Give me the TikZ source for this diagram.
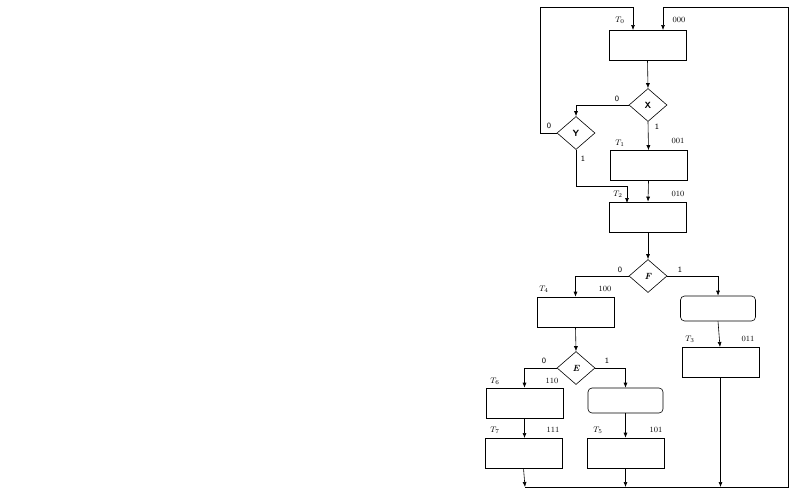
\documentclass[tikz,border=0pt]{standalone}
\usetikzlibrary{shapes.geometric,arrows.meta}
\begin{document}
\begin{tikzpicture}[x=1pt,y=-1pt,
  box/.style={draw,minimum width=77pt,minimum height=30pt,inner sep=0pt},
  rbox/.style={draw,rounded corners=4pt,minimum width=75pt,minimum height=25pt,inner sep=0pt},
  dec/.style={draw,diamond,minimum width=38pt,minimum height=33pt,inner sep=0pt,aspect=1.2,font=\sffamily\bfseries\small},
  arr/.style={-{Latex[length=5pt,width=4pt]}},
  lb/.style={font=\footnotesize,inner sep=1pt},
  sl/.style={font=\sffamily\footnotesize,inner sep=1pt},
  line width=0.6pt]
\useasboundingbox (0,0) rectangle (797,498);
\node[box] (t0) at (647.5,45) {};
\node[dec] (x) at (648,105) {X};
\node[dec] (y) at (576,133) {Y};
\node[box] (t1) at (648.5,165.5) {};
\node[box] (t2) at (648,217) {};
\node[dec] (f) at (648,276) {\rmfamily\bfseries\itshape F};
\node[box] (t4) at (575.5,312) {};
\node[rbox] (r1) at (718,308.5) {};
\node[box] (t3) at (720.5,362) {};
\node[dec] (e) at (576,368) {\rmfamily\bfseries\itshape E};
\node[box] (t6) at (524.5,403) {};
\node[rbox] (r2) at (625.5,400.5) {};
\node[box] (t7) at (523.5,453) {};
\node[box] (t5) at (625.5,453) {};
\coordinate (bl) at (525,487);
\coordinate (br) at (788,487);
% labels
\node[lb] at (620,20) {$T_0$}; \node[lb] at (679,20) {000};
\node[lb] at (620,143) {$T_1$}; \node[lb] at (678,141) {001};
\node[lb] at (618,194) {$T_2$}; \node[lb] at (678,194) {010};
\node[lb] at (544,289) {$T_4$}; \node[lb] at (605,289) {100};
\node[lb] at (690,339) {$T_3$}; \node[lb] at (748,339) {011};
\node[lb] at (495,381) {$T_6$}; \node[lb] at (552,381) {110};
\node[lb] at (495,430) {$T_7$}; \node[lb] at (553,430) {111};
\node[lb] at (598,430) {$T_5$}; \node[lb] at (656,430) {101};
\node[sl] at (617,99) {0}; \node[sl] at (657,127) {1};
\node[sl] at (549,126) {0}; \node[sl] at (583,159) {1};
\node[sl] at (620,270) {0}; \node[sl] at (680,270) {1};
\node[sl] at (544,361) {0}; \node[sl] at (607,361) {1};
% connectors
\draw[arr] (t0.south) -- (x.north);
\draw[arr] (x.south) -- (t1.north);
\draw[arr] (x.west) -| (y.north);
\draw[arr] (y.west) -- (540,133) -- (540,7) -- (633,7) -- (633,30);
\draw[arr] (y.south) |- (627,186) -- (627,203);
\draw[arr] (t1.south) -- (t2.north);
\draw[arr] (t2.south) -- (f.north);
\draw[arr] (f.west) -| (t4.north);
\draw[arr] (f.east) -| (r1.north);
\draw[arr] (r1.south) -- (720,347);
\draw[arr] (t4.south) -- (e.north);
\draw[arr] (e.west) -| (t6.north);
\draw[arr] (e.east) -| (r2.north);
\draw[arr] (t6.south) -- (524.5,438);
\draw[arr] (r2.south) -- (t5.north);
\draw[arr] (t7.south) -- (bl);
\draw[arr] (t5.south) -- (625.5,487);
\draw[arr] (t3.south) -- (720.5,487);
\draw (bl) -- (br) -- (788,7) -- (663,7);
\draw[arr] (663,7) -- (663,30);
\end{tikzpicture}
\end{document}
